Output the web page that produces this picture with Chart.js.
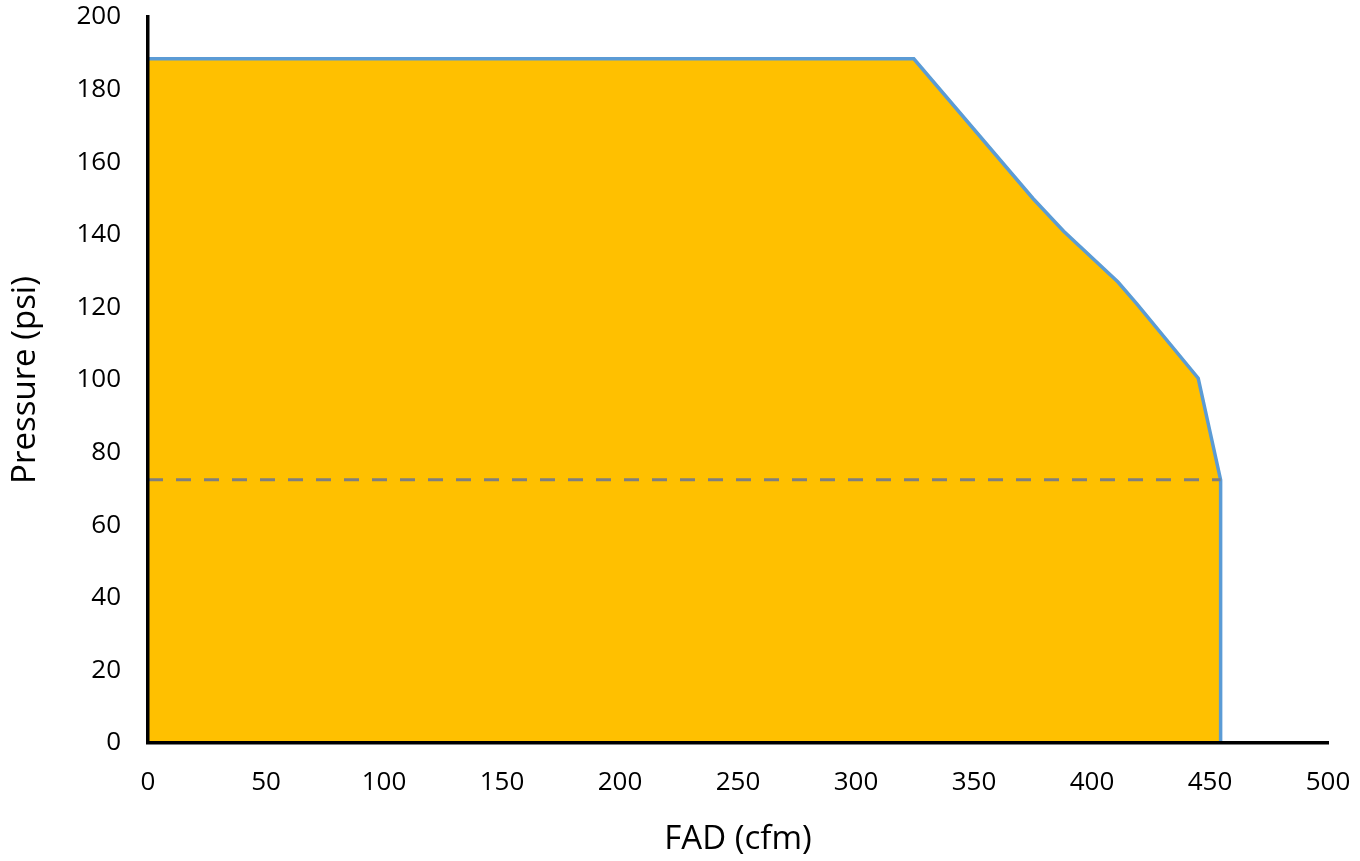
<!DOCTYPE html>
<html>
<head>
<meta charset="utf-8">
<script src="https://cdn.jsdelivr.net/npm/chart.js@4"></script>
<style>
  body { margin: 0; background: #fff; }
  #wrap { width: 1360px; height: 861px; }
</style>
</head>
<body>
<div id="wrap"><canvas id="fadChart"></canvas></div>
<script>
  // operating envelope
  const fadValues = [0, 324.5, 375, 388, 411, 419, 445, 454.5, 454.5];
  const pressureValues = [188.5, 188.5, 150, 141, 127, 121, 100.5, 72.5, 0];

  // dashed reference line
  const refFad = [0, 454.5];
  const refPressure = [72.5, 72.5];

  const toPoints = (xs, ys) => xs.map((x, i) => ({ x: x, y: ys[i] }));

  const fontName = '"Open Sans", "Liberation Sans", sans-serif';

  new Chart(document.getElementById('fadChart'), {
    type: 'scatter',
    data: {
      datasets: [{
        data: toPoints(refFad, refPressure),
        showLine: true,
        borderColor: '#7f7f7f',
        borderWidth: 3,
        borderDash: [15, 13],
        pointRadius: 0,
        fill: false,
        order: 0
      }, {
        data: toPoints(fadValues, pressureValues),
        showLine: true,
        borderColor: '#5b9bd5',
        borderWidth: 3.5,
        backgroundColor: '#ffc000',
        pointRadius: 0,
        fill: 'origin',
        tension: 0,
        order: 1
      }]
    },
    options: {
      responsive: true,
      maintainAspectRatio: false,
      animation: false,
      layout: { padding: { top: 17, right: 32, left: 0, bottom: 0 } },
      plugins: {
        legend: { display: false },
        tooltip: { enabled: false }
      },
      scales: {
        x: {
          type: 'linear',
          min: 0,
          max: 500,
          grid: { display: false, drawTicks: false },
          border: { display: true, color: '#000', width: 3.5, z: 1 },
          ticks: { stepSize: 50, padding: 24, color: '#000', font: { family: fontName, size: 26 } },
          title: {
            display: true,
            text: 'FAD (cfm)',
            color: '#000',
            font: { family: fontName, size: 33 },
            padding: { top: 0, bottom: 2 }
          },
          afterFit: function(scale) {
            scale.height = 118;
            scale.paddingLeft = 0;
            scale.paddingRight = 0;
          }
        },
        y: {
          min: 0,
          max: 200,
          grid: { display: false, drawTicks: false },
          border: { display: true, color: '#000', width: 3.5, z: 1 },
          ticks: { stepSize: 20, padding: 27, color: '#000', font: { family: fontName, size: 26 } },
          title: {
            display: true,
            text: 'Pressure (psi)',
            color: '#000',
            font: { family: fontName, size: 33 },
            padding: { top: 6, bottom: 0 }
          },
          afterFit: function(scale) {
            scale.width = 148;
            scale.paddingTop = 0;
            scale.paddingBottom = 0;
          }
        }
      }
    }
  });
</script>
</body>
</html>
